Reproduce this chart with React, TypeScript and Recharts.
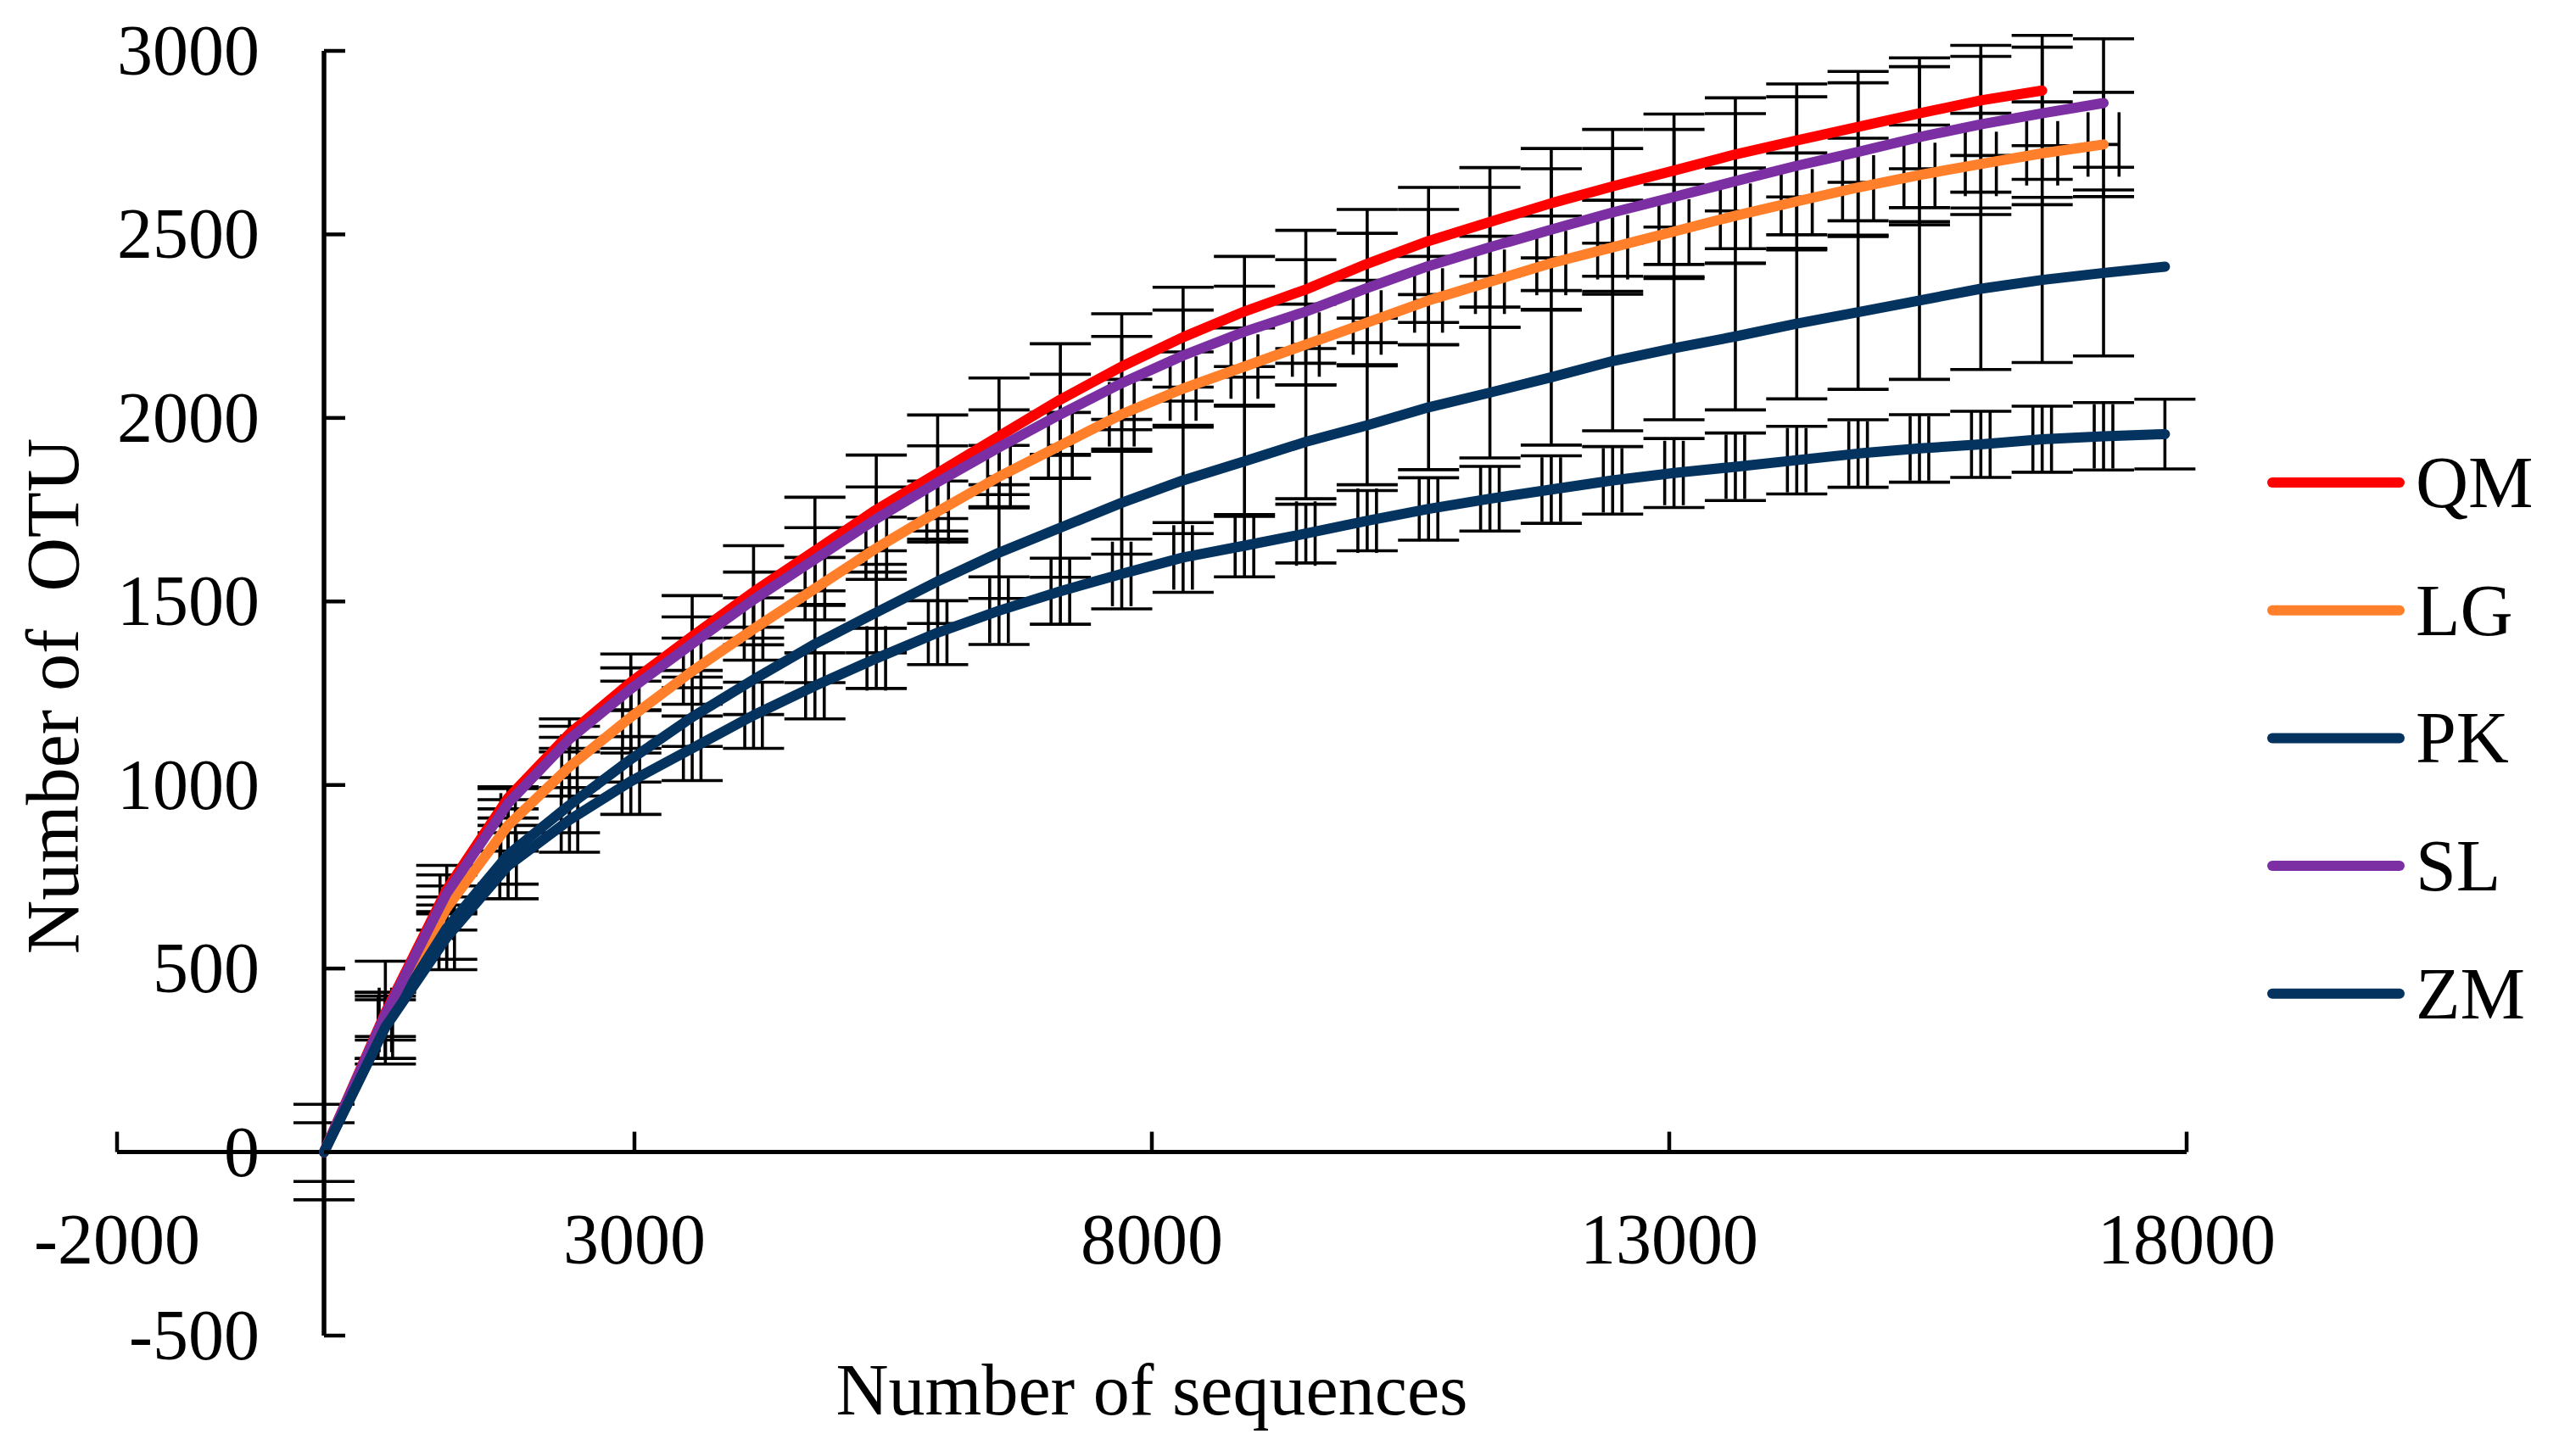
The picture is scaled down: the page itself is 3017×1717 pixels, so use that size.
import React from 'react';
import { ScatterChart, Scatter, XAxis, YAxis, ErrorBar, ReferenceLine, Legend } from 'recharts';

// rarefaction depth of each subsample (step between points)
const DEPTHS = [
    0, 593, 1186, 1779, 2372, 2965, 3558, 4151, 4744, 5337, 5930, 6523, 7116, 7709, 8302, 8895,
    9488, 10081, 10674, 11267, 11860, 12453, 13046, 13639, 14232, 14825, 15418, 16011, 16604, 17197, 17790,
];

const QM_OTU = [0, 380, 715, 965, 1140, 1280, 1405, 1526, 1638, 1750, 1850, 1950, 2050, 2140, 2220, 2290, 2350, 2420, 2482, 2534, 2585, 2631, 2674, 2718, 2756, 2793, 2830, 2865, 2892];
const QM_ERR = [0, 140, 66, 30, 40, 77, 111, 126, 146, 149, 158, 159, 152, 144, 136, 150, 161, 148, 146, 148, 149, 155, 154, 154, 154, 151, 151, 150, 150];

const LG_OTU = [0, 360, 665, 890, 1050, 1185, 1310, 1425, 1535, 1645, 1745, 1840, 1925, 2010, 2080, 2140, 2200, 2260, 2320, 2371, 2422, 2465, 2508, 2551, 2590, 2628, 2662, 2692, 2721, 2745];
const LG_ERR = [0, 55, 60, 70, 80, 98, 90, 85, 85, 85, 83, 85, 90, 95, 100, 105, 110, 115, 120, 124, 128, 128, 128, 130, 132, 134, 136, 138, 140, 142];
const LG_XERR = [0, 60, 65, 70, 75, 80, 85, 90, 95, 100, 105, 110, 115, 120, 125, 130, 130, 135, 135, 140, 140, 145, 145, 145, 150, 150, 150, 150, 150, 150];

const PK_OTU = [0, 345, 610, 810, 945, 1070, 1185, 1287, 1384, 1470, 1555, 1633, 1701, 1769, 1830, 1882, 1935, 1980, 2029, 2069, 2111, 2155, 2190, 2222, 2257, 2288, 2320, 2352, 2376, 2395, 2412];
const PK_ERR = [130, 90, 85, 80, 75, 62, 80, 95, 105, 110, 115, 125, 135, 140, 145, 150, 155, 162, 170, 178, 185, 190, 195, 200, 205, 210, 215, 220, 225, 226, 0];
const PK_XERR = [0, 0, 0, 0, 0, 0, 0, 0, 0, 0, 0, 0, 0, 0, 0, 0, 0, 0, 0, 0, 0, 0, 0, 0, 0, 0, 0, 0, 0, 0, 0];

const SL_OTU = [0, 375, 705, 950, 1125, 1262, 1385, 1505, 1615, 1725, 1825, 1920, 2010, 2095, 2170, 2235, 2290, 2354, 2414, 2465, 2513, 2560, 2602, 2645, 2687, 2725, 2765, 2800, 2830, 2858];
const SL_ERR = [0, 60, 50, 40, 35, 57, 73, 75, 86, 87, 99, 102, 109, 127, 124, 124, 141, 149, 154, 163, 166, 174, 184, 184, 188, 188, 192, 185, 180, 175];

const ZM_OTU = [0, 340, 585, 780, 905, 1010, 1100, 1190, 1270, 1345, 1415, 1475, 1528, 1575, 1620, 1652, 1685, 1720, 1752, 1780, 1805, 1830, 1850, 1867, 1885, 1903, 1917, 1928, 1942, 1950, 1956];
const ZM_ERR = [80, 85, 88, 90, 88, 90, 88, 90, 90, 82, 87, 92, 90, 95, 95, 85, 80, 82, 85, 88, 92, 92, 94, 92, 92, 92, 92, 90, 90, 92, 95];
const ZM_XERR = [0, 70, 75, 80, 80, 85, 85, 85, 90, 90, 90, 90, 90, 90, 90, 90, 90, 90, 90, 90, 90, 90, 90, 90, 90, 90, 90, 90, 90, 90, 0];

const X_TICKS = [-2000, 3000, 8000, 13000, 18000];
const Y_TICKS = [-500, 0, 500, 1000, 1500, 2000, 2500, 3000];

const SERIES_NAMES = ['QM', 'LG', 'PK', 'SL', 'ZM'];
const SERIES_COLORS = ['#FF0000', '#FF7F2A', '#04335F', '#7B2FA2', '#04335F'];

const buildSeries = (otu: number[], err: number[], xerr?: number[]) =>
    otu.map((y, i) => ({ x: DEPTHS[i], y, ey: err[i], ex: xerr ? xerr[i] : 0 }));

const SERIES = [
    { data: buildSeries(QM_OTU, QM_ERR), xErr: false },
    { data: buildSeries(LG_OTU, LG_ERR, LG_XERR), xErr: true },
    { data: buildSeries(PK_OTU, PK_ERR, PK_XERR), xErr: true },
    { data: buildSeries(SL_OTU, SL_ERR), xErr: false },
    { data: buildSeries(ZM_OTU, ZM_ERR, ZM_XERR), xErr: true },
];

const CHART_W = 3000;
const CHART_H = 1700;
// axes get 1px each (a 0px axis is not drawn at all)
const MARGIN = { top: 52, right: 430, bottom: 132, left: 129 };
const AXIS_PX = 1;
const X_DOMAIN: [number, number] = [-2000, 18000];
const Y_DOMAIN: [number, number] = [-500, 3000];
const FONT = "'Liberation Serif', 'Times New Roman', serif";

// pixel positions where the axes cross (x = 0 and y = 0)
const PLOT_LEFT = MARGIN.left + AXIS_PX;
const PLOT_W = CHART_W - PLOT_LEFT - MARGIN.right;
const PLOT_H = CHART_H - MARGIN.top - MARGIN.bottom - AXIS_PX;
const X0 = PLOT_LEFT + ((0 - X_DOMAIN[0]) / (X_DOMAIN[1] - X_DOMAIN[0])) * PLOT_W;
const Y0 = MARGIN.top + ((Y_DOMAIN[1] - 0) / (Y_DOMAIN[1] - Y_DOMAIN[0])) * PLOT_H;

const XTick = (props: any) => {
    const { x, payload } = props;
    return (
        <g>
            <line x1={x} x2={x} y1={Y0} y2={Y0 - 24} stroke="#000" strokeWidth={4.5} />
            <text x={x} y={Y0 + 131} textAnchor="middle" fontSize={84} fontFamily={FONT} fill="#000">
                {payload.value}
            </text>
        </g>
    );
};

const YTick = (props: any) => {
    const { y, payload } = props;
    return (
        <g>
            <line x1={X0} x2={X0 + 25} y1={y} y2={y} stroke="#000" strokeWidth={4.5} />
            <text x={X0 - 76} y={y + 28} textAnchor="end" fontSize={84} fontFamily={FONT} fill="#000">
                {payload.value}
            </text>
        </g>
    );
};

const renderLegend = () => (
    <svg width={340} height={760}>
        {SERIES_NAMES.map((name, i) => {
            const cy = 75 + i * 150.7;
            return (
                <g key={name}>
                    <line x1={11} x2={161} y1={cy} y2={cy} stroke={SERIES_COLORS[i]} strokeWidth={12} strokeLinecap="round" />
                    <text x={180} y={cy + 29} fontSize={86} fontFamily={FONT} fill="#000">
                        {name}
                    </text>
                </g>
            );
        })}
    </svg>
);

const App: React.FC = () => {
    return (
        <div style={{ position: 'relative', width: CHART_W, height: CHART_H, background: '#fff' }}>
            <ScatterChart width={CHART_W} height={CHART_H} margin={MARGIN}>
                <XAxis
                    type="number"
                    dataKey="x"
                    domain={X_DOMAIN}
                    ticks={X_TICKS}
                    interval={0}
                    height={AXIS_PX}
                    axisLine={false}
                    tickLine={false}
                    tick={(p: any) => <XTick {...p} />}
                />
                <YAxis
                    type="number"
                    dataKey="y"
                    domain={Y_DOMAIN}
                    ticks={Y_TICKS}
                    interval={0}
                    width={AXIS_PX}
                    allowDataOverflow
                    axisLine={false}
                    tickLine={false}
                    tick={(p: any) => <YTick {...p} />}
                />
                <ReferenceLine y={0} stroke="#000" strokeWidth={5} />
                <ReferenceLine x={0} stroke="#000" strokeWidth={5.5} />
                {SERIES.map((s, i) => (
                    <Scatter
                        key={SERIES_NAMES[i]}
                        name={SERIES_NAMES[i]}
                        data={s.data}
                        fill={SERIES_COLORS[i]}
                        line={{ stroke: SERIES_COLORS[i], strokeWidth: 12, strokeLinecap: 'round', strokeLinejoin: 'round' }}
                        lineType="joint"
                        shape={() => <g />}
                        isAnimationActive={false}
                    >
                        <ErrorBar dataKey="ey" direction="y" width={36} stroke="#000" strokeWidth={3.6} />
                        {s.xErr && <ErrorBar dataKey="ex" direction="x" width={38} stroke="#000" strokeWidth={3.6} />}
                    </Scatter>
                ))}
                <Legend
                    layout="horizontal"
                    align="center"
                    verticalAlign="middle"
                    wrapperStyle={{ left: 2660, top: 486, width: 340, height: 760 }}
                    content={renderLegend}
                />
            </ScatterChart>
            <div
                style={{
                    position: 'absolute',
                    left: 55 - 400,
                    top: 813 - 44,
                    width: 800,
                    height: 88,
                    lineHeight: '88px',
                    fontSize: 88,
                    fontFamily: FONT,
                    textAlign: 'center',
                    whiteSpace: 'pre',
                    transform: 'rotate(-90deg)',
                }}
            >
                Number of  OTU
            </div>
            <div
                style={{
                    position: 'absolute',
                    left: 1350 - 500,
                    top: 1588,
                    width: 1000,
                    lineHeight: '86px',
                    fontSize: 86,
                    fontFamily: FONT,
                    textAlign: 'center',
                }}
            >
                Number of sequences
            </div>
        </div>
    );
};

export default App;
